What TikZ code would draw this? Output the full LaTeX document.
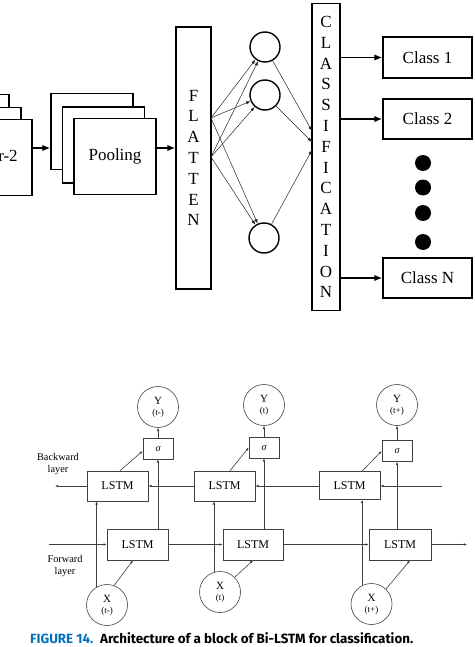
\documentclass[tikz,border=0pt]{standalone}
\usepackage{fontspec}
\setmainfont{Liberation Serif}
\newfontfamily\capfont{Fira Sans}
\usetikzlibrary{arrows.meta}
\definecolor{capblue}{RGB}{0,114,188}
\newcommand\tsubfont{\fontsize{9}{10}\selectfont}
\begin{document}
\begin{tikzpicture}[x=1pt,y=-1pt,
  box/.style={draw, line width=1.4pt, fill=white, inner sep=0pt},
  big/.style={font=\fontsize{17}{20.8}\selectfont},
  tarrow/.style={line width=1.8pt, -{Latex[length=8pt,width=6.5pt]}},
  narrow/.style={draw=black!85, line width=0.5pt, -{Latex[length=4.5pt,width=3.2pt]}},
  neuron/.style={draw, circle, line width=1.4pt, minimum size=30pt, inner sep=0pt},
  dotn/.style={circle, fill=black, minimum size=16pt, inner sep=0pt},
  lbox/.style={draw=black!75, line width=0.6pt, inner sep=0pt, font=\fontsize{12}{13}\selectfont},
  sbox/.style={draw=black!75, line width=0.6pt, inner sep=0pt, minimum width=30pt, minimum height=21pt, font=\fontsize{10}{11}\itshape},
  cnode/.style={draw=black!75, circle, line width=0.6pt, inner sep=0pt, minimum size=41pt, align=center, font=\fontsize{11}{12}\selectfont},
  sarr/.style={draw=black!75, line width=0.6pt, -{Latex[length=3.2pt,width=2.6pt]}},
  lbl/.style={align=center, inner sep=0pt, font=\fontsize{10.3}{12}\selectfont}
  ]
\useasboundingbox (0,0) rectangle (474,647);
\clip (0,0) rectangle (474,647);

% ---------- upper part ----------
\node[box, minimum width=82pt, minimum height=76pt] (cb) at (-32,132.5) {};
\node[box, minimum width=82pt, minimum height=76pt] (cm) at (-20,145.5) {};
\node[box, big, minimum width=82pt, minimum height=76pt] (cf) at (-9,157.5) {Layer-2};

\node[box, minimum width=82pt, minimum height=76pt] (pb) at (92,131.5) {};
\node[box, minimum width=82pt, minimum height=76pt] (pm) at (103.5,145) {};
\node[box, big, minimum width=82pt, minimum height=76pt] (pf) at (115,156.5) {Pooling};

\node[box, big, align=center, minimum width=35pt, minimum height=262pt] (fl) at (193.5,158) {F\\L\\A\\T\\T\\E\\N};

\coordinate (a1) at (0,148);
\draw[tarrow] (cf.east |- a1) -- (pb.west |- a1);
\draw[tarrow] (pf.east |- a1) -- (fl.west |- a1);

\node[neuron] (n1) at (265,47) {};
\node[neuron] (n2) at (265,95) {};
\node[neuron] (n3) at (264,238) {};

\coordinate (f1) at (211,118);
\coordinate (f2) at (211,157);
\foreach \s in {f1,f2}{\foreach \t in {n1,n2,n3}{\draw[narrow] (\s) -- (\t);}}

\node[box, big, align=center, minimum width=28pt, minimum height=307pt] (cl) at (326,157) {C\\L\\A\\S\\S\\I\\F\\I\\C\\A\\T\\I\\O\\N};

\coordinate (c1) at (312,131);
\coordinate (c2) at (312,142);
\coordinate (c3) at (312,150);
\draw[narrow] (n1) -- (c1);
\draw[narrow] (n2) -- (c2);
\draw[narrow] (n3) -- (c3);

\node[box, big, minimum width=89pt, minimum height=41pt] (k1) at (427.5,57.5) {Class 1};
\node[box, big, minimum width=89pt, minimum height=40pt] (k2) at (427.5,119) {Class 2};
\node[box, big, minimum width=89pt, minimum height=40pt] (kN) at (427.5,278) {Class N};
\draw[tarrow] (cl.east |- k1) -- (k1.west);
\draw[tarrow] (cl.east |- k2) -- (k2.west);
\draw[tarrow] (cl.east |- kN) -- (kN.west);

\node[dotn] (d1) at (423,163) {};
\node[dotn] (d2) at (423,187.5) {};
\node[dotn] (d3) at (423,213) {};
\node[dotn] (d4) at (423,242) {};

% ---------- lower part ----------
\node[cnode] (Y1) at (158,407) {Y\\[-1pt]{\tsubfont (t-)}};
\node[cnode] (Y2) at (264,405) {Y\\[-1pt]{\tsubfont (t)}};
\node[cnode] (Y3) at (397,405) {Y\\[-1pt]{\tsubfont (t+)}};

\node[sbox] (s1) at (158,448.5) {σ};
\node[sbox] (s2) at (264,447.5) {σ};
\node[sbox] (s3) at (397,451) {σ};

\node[lbox, minimum width=61pt, minimum height=30pt] (B1) at (117.5,486) {LSTM};
\node[lbox, minimum width=61pt, minimum height=30pt] (B2) at (224.5,486) {LSTM};
\node[lbox, minimum width=61pt, minimum height=28pt] (B3) at (349.5,485.5) {LSTM};

\node[lbox, minimum width=61pt, minimum height=31pt] (F1) at (137.5,544.5) {LSTM};
\node[lbox, minimum width=60pt, minimum height=31pt] (F2) at (253,544.5) {LSTM};
\node[lbox, minimum width=62pt, minimum height=31pt] (F3) at (400,544.5) {LSTM};

\node[cnode] (X1) at (107,605) {X\\[-1pt]{\tsubfont (t-)}};
\node[cnode] (X2) at (220,592) {X\\[-1pt]{\tsubfont (t)}};
\node[cnode] (X3) at (371.5,604) {X\\[-1pt]{\tsubfont (t+)}};

\node[lbl] (bw) at (58,464) {Backward\\layer};
\node[lbl] (fw) at (65,566) {Forward\\layer};

\coordinate (bl) at (55,486);
\coordinate (bin) at (442,486);
\coordinate (fin) at (49,544.5);
\coordinate (fout) at (467,544.5);

\draw[sarr] (bin) -- (B3.east |- bin);
\draw[sarr] (B3.west |- bin) -- (B2.east);
\draw[sarr] (B2.west) -- (B1.east);
\draw[sarr] (B1.west) -- (bl);

\draw[sarr] (fin) -- (F1.west);
\draw[sarr] (F1.east) -- (F2.west);
\draw[sarr] (F2.east) -- (F3.west);
\draw[sarr] (F3.east) -- (fout);

\draw[sarr] (X1.120) -- (X1.120 |- B1.south);
\draw[sarr] (X1.70) -- ([xshift=-4.5pt]F1.south);
\draw[sarr] ([xshift=2.5pt]B1.north) -- ([yshift=-2.5pt]s1.west);
\draw[sarr] (F1.north -| s1.south) -- (s1.south);
\draw[sarr] (s1.north) -- (Y1.south);

\draw[sarr] (X2.107) -- (X2.107 |- B2.south);
\draw[sarr] (X2.45) -- (F2.south);
\draw[sarr] ([xshift=5.5pt]B2.north) -- (s2.west);
\draw[sarr] (F2.north -| s2.south) -- (s2.south);
\draw[sarr] (s2.north) -- (Y2.south);

\draw[sarr] (X3.117) -- (X3.117 |- B3.south);
\draw[sarr] (X3.46) -- ([xshift=10pt]F3.south);
\draw[sarr] ([xshift=12.5pt]B3.north) -- (s3.west);
\draw[sarr] (F3.north -| s3.south) -- (s3.south);
\draw[sarr] (s3.north) -- (Y3.south);

\node[anchor=base west, inner sep=0pt] (cap) at (30,643.5) {\resizebox{383pt}{!}{\capfont\bfseries\textcolor{capblue}{FIGURE 14.}\hspace{0.5em}Architecture of a block of Bi-LSTM for classification.}};
\end{tikzpicture}
\end{document}
